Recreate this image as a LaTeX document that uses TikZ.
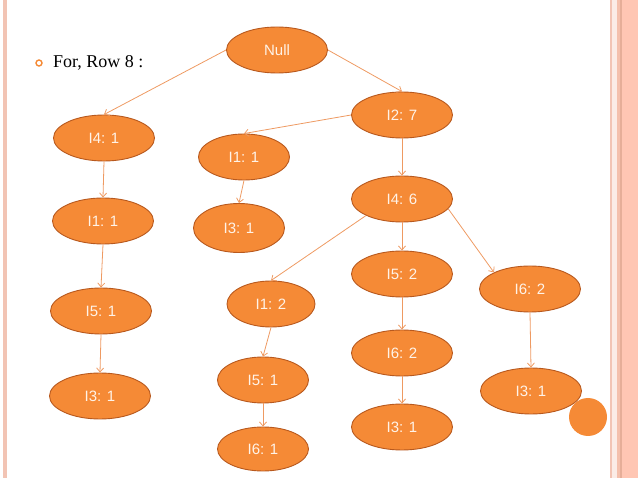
\documentclass[tikz,border=0pt]{standalone}
\usepackage{fontspec}
\setmainfont{Liberation Serif}
\newfontfamily\itemfont{Liberation Sans}
\usetikzlibrary{shapes.geometric, arrows.meta}

\definecolor{nodefill}{HTML}{F58A36}
\definecolor{nodeline}{HTML}{B8591E}
\definecolor{edgeline}{HTML}{EE9A62}
\definecolor{itemtext}{HTML}{FFF3E8}
\definecolor{barA}{HTML}{F2C4B4}
\definecolor{barB}{HTML}{FBECE6}
\definecolor{barC}{HTML}{F4C0AC}
\definecolor{barD}{HTML}{E6AE98}
\definecolor{barE}{HTML}{FFC6B3}

\tikzset{
  item/.style={ellipse, draw=nodeline, line width=0.9pt, fill=nodefill,
    text=itemtext, inner sep=0pt, minimum width=101pt, minimum height=46pt,
    font=\itemfont\fontsize{15}{17}\selectfont},
  small/.style={minimum width=91pt},
  link/.style={-{Straight Barb[length=4pt, width=7pt]}, draw=edgeline, line width=0.8pt}
}

\begin{document}
\begin{tikzpicture}[x=1pt, y=-1pt]
  \useasboundingbox (0,0) rectangle (638,478);

  % 页面边框
  \fill[barA] (3,0) rectangle (7,478);
  \fill[barA] (610,0) rectangle (612,478);
  \fill[barB] (612,0) rectangle (617,478);
  \fill[barC] (617,0) rectangle (620,478);
  \fill[barD] (620,0) rectangle (622,478);
  \fill[barE] (622,0) rectangle (638,478);

  % 标题
  \draw[nodefill, line width=1.4pt] (39,63) circle[radius=3];
  \node[anchor=base west, inner sep=0pt, font=\fontsize{18}{20}\selectfont] (title) at (53,68) {For, Row 8 :};

  % 结点
  \node[item] (null) at (277,50) {Null};
  \node[item] (i2) at (402,115) {I2: 7};
  \node[item] (i4a) at (104,138) {I4: 1};
  \node[item, small] (i1b) at (244,157) {I1: 1};
  \node[item] (i46) at (402,199) {I4: 6};
  \node[item] (i1a) at (103,221) {I1: 1};
  \node[item, small, minimum height=49pt] (i3b) at (239,228) {I3: 1};
  \node[item] (i52) at (402,274) {I5: 2};
  \node[item] (i62r) at (530,289) {I6: 2};
  \node[item, minimum width=88pt] (i12) at (271,304) {I1: 2};
  \node[item] (i5a) at (101,311) {I5: 1};
  \node[item] (i62) at (402,353) {I6: 2};
  \node[item] (i3a) at (100,396) {I3: 1};
  \node[item, small] (i5b) at (263,380) {I5: 1};
  \node[item] (i3r) at (531,391) {I3: 1};
  \node[item] (i3c) at (402,427) {I3: 1};
  \node[item, small, minimum height=44pt] (i6b) at (263,449) {I6: 1};

  \fill[nodefill] (588,417) circle[radius=19];

  % 连线
  \draw[link] (null.west) -- (i4a.north);
  \draw[link] (null.east) -- (i2.north);
  \draw[link] (i2.west) -- (i1b.north);
  \draw[link] (i4a.south) -- (i1a.north);
  \draw[link] (i1b.south) -- (i3b.north);
  \draw[link] (i2.south) -- (i46.north);
  \draw[link] (i1a.south) -- (i5a.north);
  \draw[link] (i46.south west) -- (i12.north);
  \draw[link] (i46.south) -- (i52.north);
  \draw[link] (i46.-12) -- (i62r.north west);
  \draw[link] (i12.south) -- (i5b.north);
  \draw[link] (i52.south) -- (i62.north);
  \draw[link] (i62r.south) -- (i3r.north);
  \draw[link] (i5a.south) -- (i3a.north);
  \draw[link] (i5b.south) -- (i6b.north);
  \draw[link] (i62.south) -- (i3c.north);
\end{tikzpicture}
\end{document}
